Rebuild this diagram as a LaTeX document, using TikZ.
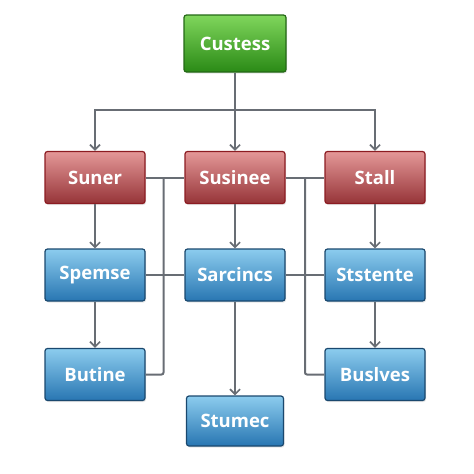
\documentclass[tikz,border=0pt]{standalone}
\usepackage{fontspec}
\setmainfont{Open Sans}
\usetikzlibrary{arrows.meta,shadows}

\definecolor{linegray}{RGB}{104,109,116}
\definecolor{grtop}{RGB}{128,214,92}
\definecolor{grmid}{RGB}{74,182,42}
\definecolor{grbot}{RGB}{42,138,22}
\definecolor{grline}{RGB}{36,104,22}
\definecolor{rdtop}{RGB}{228,152,152}
\definecolor{rdmid}{RGB}{192,98,98}
\definecolor{rdbot}{RGB}{150,52,56}
\definecolor{rdline}{RGB}{140,28,34}
\definecolor{bltop}{RGB}{140,204,238}
\definecolor{blmid}{RGB}{72,160,212}
\definecolor{blbot}{RGB}{40,118,178}
\definecolor{blline}{RGB}{26,72,110}

\tikzset{
  box/.style={rounded corners=2.5pt, line width=1.2pt, minimum width=100pt,
    minimum height=52pt, text=white, font=\fontsize{18.5}{22}\selectfont\bfseries,
    drop shadow={opacity=0.2, shadow xshift=1pt, shadow yshift=-1.5pt}},
  greenbox/.style={box, draw=grline, top color=grtop, middle color=grmid, bottom color=grbot},
  redbox/.style={box, draw=rdline, top color=rdtop, middle color=rdmid, bottom color=rdbot},
  bluebox/.style={box, draw=blline, top color=bltop, middle color=blmid, bottom color=blbot},
  link/.style={draw=linegray, line width=2pt},
  arr/.style={link, -{Straight Barb[length=5pt,width=10pt,line width=1.7pt]}}
}

\begin{document}
\begin{tikzpicture}[x=1pt,y=1pt,yscale=-1,xscale=1]
\useasboundingbox (0,0) rectangle (474,474);

% top node
\node [greenbox, minimum width=102pt, minimum height=57pt] (cust) at (235,43.5) {Custess};

% red row
\node [redbox] (sun) at (95,177.5) {Suner};
\node [redbox] (sus) at (235,177.5) {Susinee};
\node [redbox] (sta) at (375,177.5) {Stall};

% blue row
\node [bluebox] (spe) at (95,275) {Spemse};
\node [bluebox] (sar) at (235,275) {Sarcincs};
\node [bluebox] (sts) at (375,275) {Ststente};

% bottom row
\node [bluebox] (but) at (95,374.5) {Butine};
\node [bluebox, minimum width=97pt, minimum height=50pt] (stu) at (235,421) {Stumec};
\node [bluebox] (bus) at (375,374.5) {Buslves};

% tree lines
\coordinate (hub) at (235,110);
\draw [link] (cust) -- (hub);
\draw [arr] (hub) -| (sun);
\draw [arr] (hub) -- (sus);
\draw [arr] (hub) -| (sta);

\draw [arr] (sun) -- (spe);
\draw [arr] (sus) -- (sar);
\draw [arr] (sta) -- (sts);
\draw [arr] (spe) -- (but);
\draw [arr] (sar) -- (stu);
\draw [arr] (sts) -- (bus);

% cross links
\draw [link] (sun) -- (sus);
\draw [link] (sus) -- (sta);
\draw [link] (spe) -- (sar);
\draw [link] (sar) -- (sts);

\coordinate (vl) at (163.5,177.5);
\coordinate (vr) at (305,177.5);
\draw [link, rounded corners=2pt] (vl) |- (but);
\draw [link, rounded corners=2pt] (vr) |- (bus);

\end{tikzpicture}
\end{document}
